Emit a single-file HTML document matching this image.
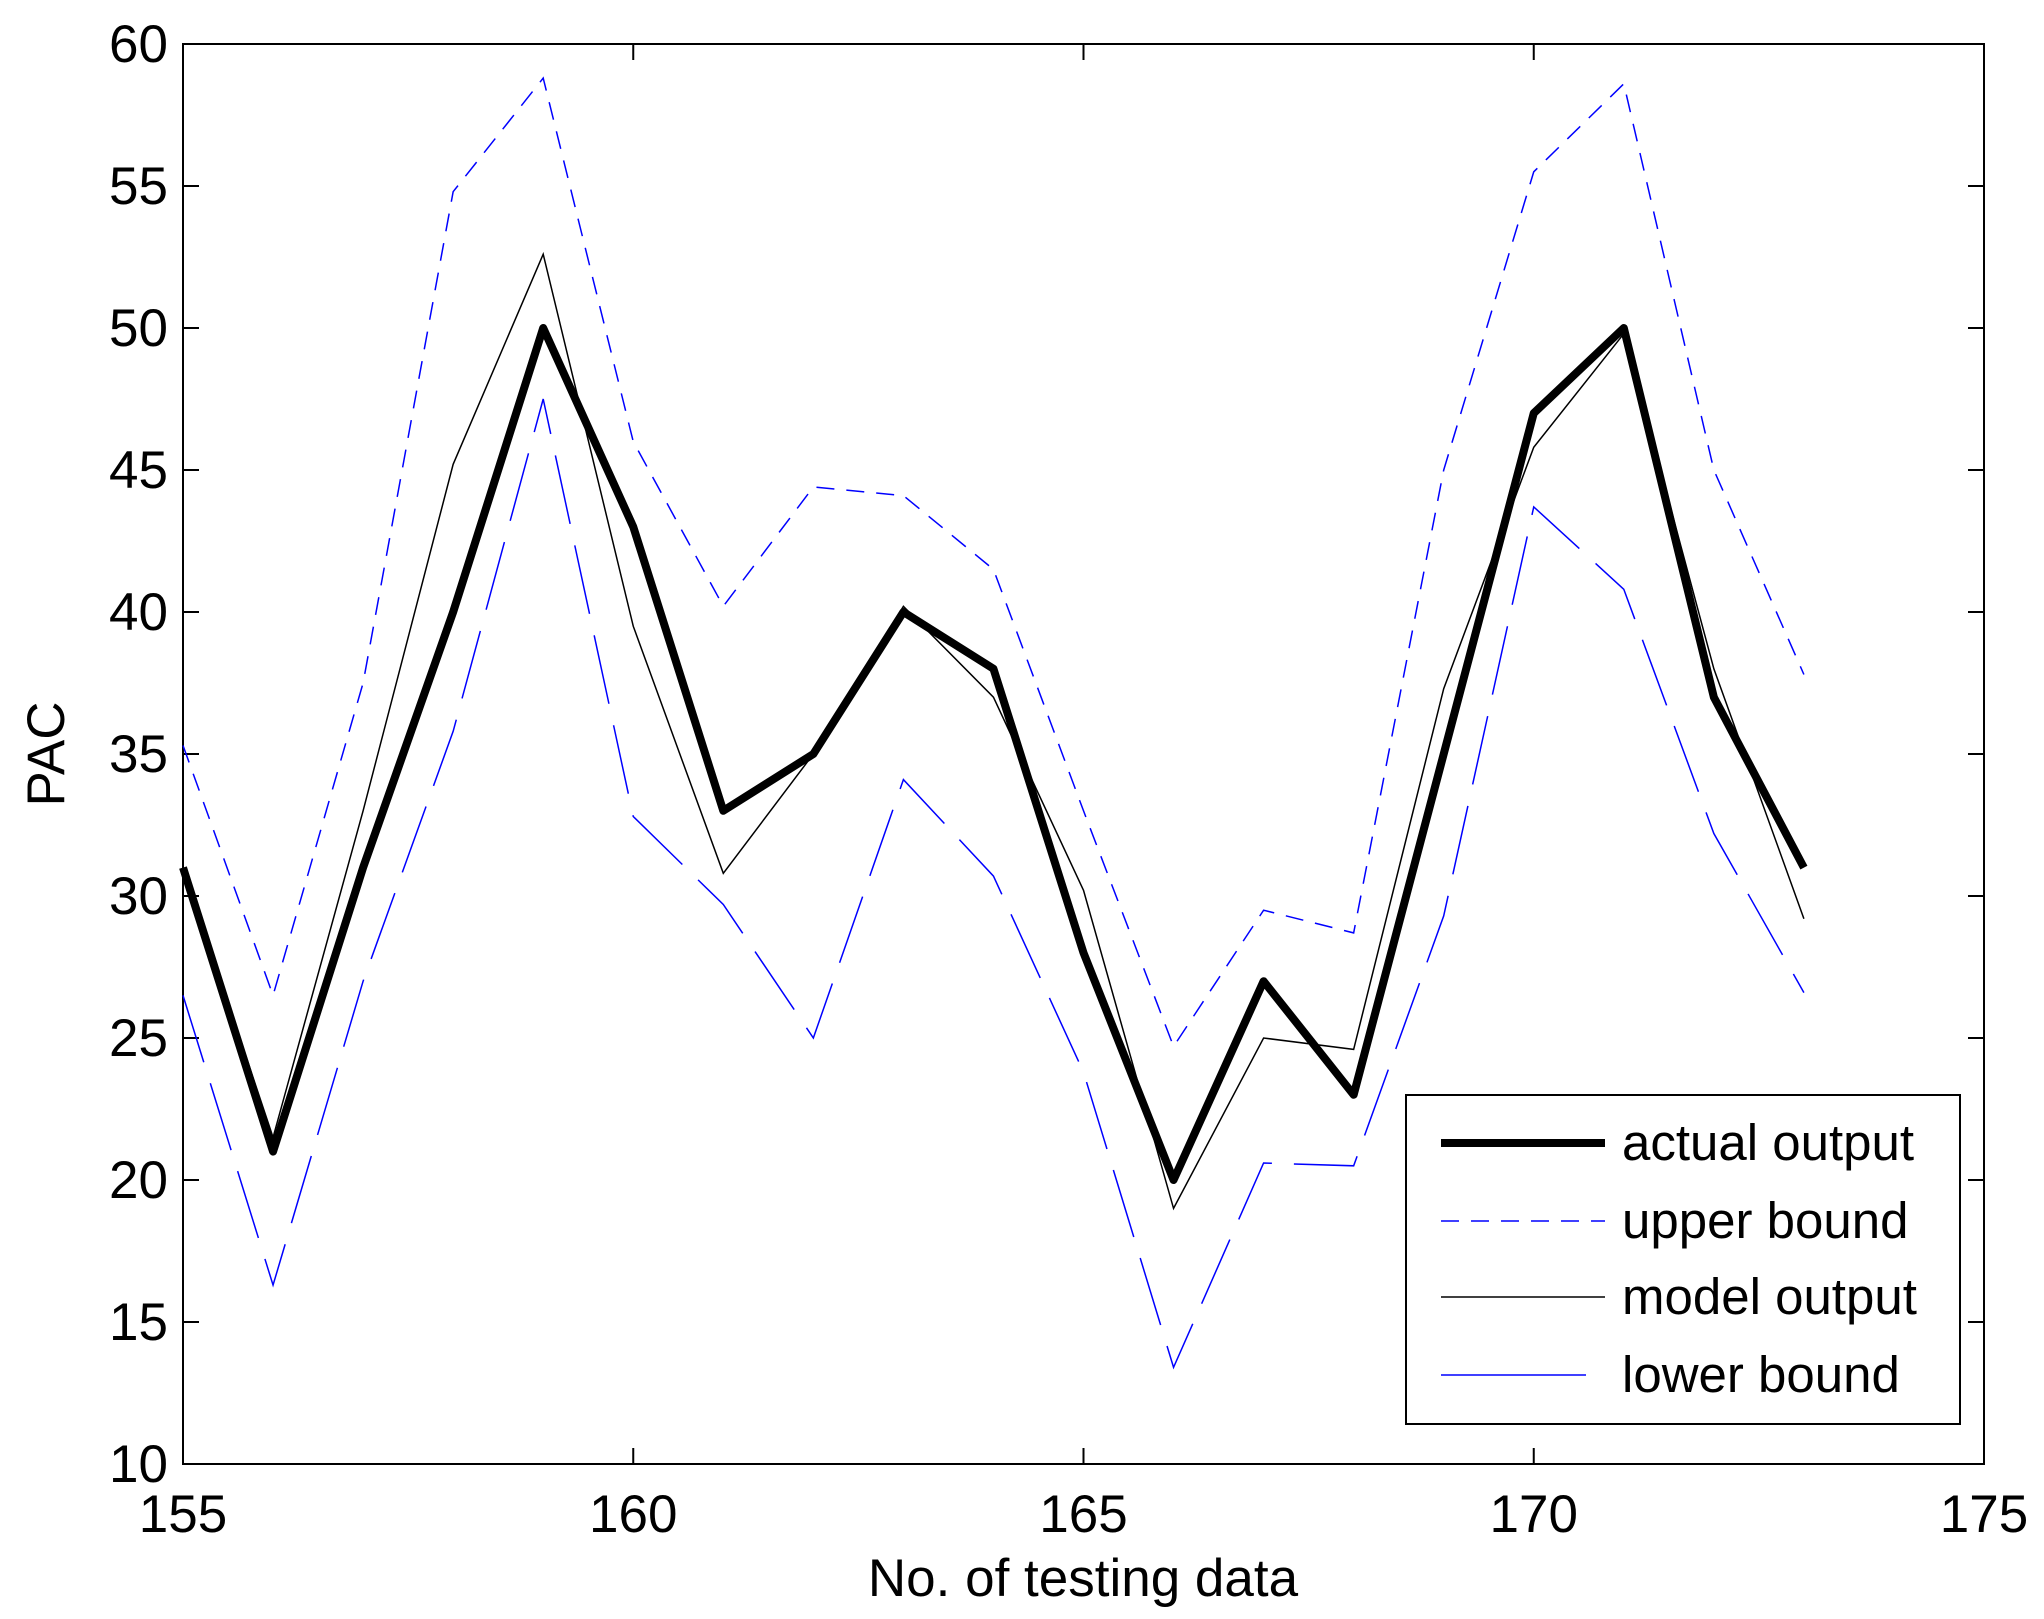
<html><body style="margin:0;background:#fff">
<svg width="2044" height="1619" viewBox="0 0 2044 1619" xmlns="http://www.w3.org/2000/svg" font-family="Liberation Sans, sans-serif">
<rect width="2044" height="1619" fill="#fff"/>
<g stroke="#000" stroke-width="2" fill="none">
<path d="M183,44H1984V1464H183Z"/>
<path d="M183,1464h16M183,1322h16M183,1180h16M183,1038h16M183,896h16M183,754h16M183,612h16M183,470h16M183,328h16M183,186h16M183,44h16"/>
<path d="M1984,1464h-16M1984,1322h-16M1984,1180h-16M1984,1038h-16M1984,896h-16M1984,754h-16M1984,612h-16M1984,470h-16M1984,328h-16M1984,186h-16M1984,44h-16"/>
<path d="M183,1464v-16M633.25,1464v-16M1083.5,1464v-16M1533.75,1464v-16M1984,1464v-16M183,44v16M633.25,44v16M1083.5,44v16M1533.75,44v16M1984,44v16"/>
</g>
<g font-size="53" text-anchor="end">
<text x="168" y="1482">10</text><text x="168" y="1340">15</text><text x="168" y="1198">20</text>
<text x="168" y="1056">25</text><text x="168" y="914">30</text><text x="168" y="772">35</text>
<text x="168" y="630">40</text><text x="168" y="488">45</text><text x="168" y="346">50</text>
<text x="168" y="204">55</text><text x="168" y="62">60</text>
</g>
<g font-size="53" text-anchor="middle">
<text x="183" y="1532">155</text><text x="633.25" y="1532">160</text><text x="1083.5" y="1532">165</text>
<text x="1533.75" y="1532">170</text><text x="1984" y="1532">175</text>
</g>
<g fill="none">
<polyline stroke="#00f" stroke-width="1.5" stroke-dasharray="18 12" points="183,745.5 273.05,995.4 363.1,683 453.15,191.7 543.2,78.1 633.25,441.6 723.3,606.3 813.35,487 903.4,495.6 993.45,569.4 1083.5,810.8 1173.55,1046.5 1263.6,910.2 1353.65,932.9 1443.7,470 1533.75,171.8 1623.8,83.8 1713.85,470 1803.9,674.5"/>
<polyline stroke="#00f" stroke-width="1.5" stroke-dasharray="70 22" points="183,995.4 273.05,1285.1 363.1,981.2 453.15,731.3 543.2,399 633.25,816.5 723.3,904.5 813.35,1038 903.4,779.6 993.45,876.1 1083.5,1072.1 1173.55,1367.4 1263.6,1163 1353.65,1165.8 1443.7,915.9 1533.75,506.9 1623.8,589.3 1713.85,833.5 1803.9,992.6"/>
<polyline stroke="#000" stroke-width="1.5" points="183,867.6 273.05,1137.4 363.1,810.8 453.15,464.3 543.2,254.2 633.25,626.2 723.3,873.3 813.35,754 903.4,606.3 993.45,697.2 1083.5,890.3 1173.55,1208.4 1263.6,1038 1353.65,1049.4 1443.7,688.7 1533.75,447.3 1623.8,333.7 1713.85,668.8 1803.9,918.7"/>
<polyline stroke="#000" stroke-width="8" stroke-linejoin="round" points="183,867.6 273.05,1151.6 363.1,867.6 453.15,612 543.2,328 633.25,526.8 723.3,810.8 813.35,754 903.4,612 993.45,668.8 1083.5,952.8 1173.55,1180 1263.6,981.2 1353.65,1094.8 1443.7,754 1533.75,413.2 1623.8,328 1713.85,697.2 1803.9,867.6"/>
</g>
<text x="1083" y="1596" font-size="53" text-anchor="middle">No. of testing data</text>
<text transform="translate(64,754) rotate(-90)" font-size="53" text-anchor="middle">PAC</text>
<rect x="1406" y="1095" width="554" height="329" fill="#fff" stroke="#000" stroke-width="2"/>
<line x1="1441" y1="1143" x2="1605" y2="1143" stroke="#000" stroke-width="8"/>
<line x1="1441" y1="1221" x2="1605" y2="1221" stroke="#00f" stroke-width="1.5" stroke-dasharray="18 12"/>
<line x1="1441" y1="1297" x2="1605" y2="1297" stroke="#000" stroke-width="1.5"/>
<line x1="1441" y1="1375" x2="1586" y2="1375" stroke="#00f" stroke-width="1.5"/>
<g font-size="51">
<text x="1622" y="1160">actual output</text>
<text x="1622" y="1238">upper bound</text>
<text x="1622" y="1314">model output</text>
<text x="1622" y="1392">lower bound</text>
</g>
</svg>
</body></html>
